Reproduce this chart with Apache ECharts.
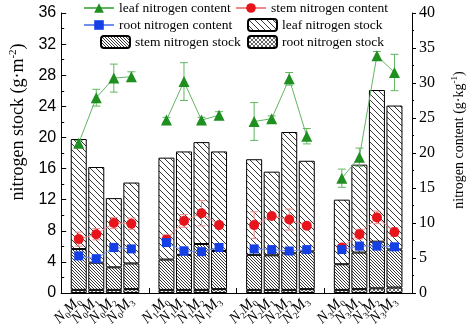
<!DOCTYPE html>
<html>
<head>
<meta charset="utf-8">
<script src="https://cdn.jsdelivr.net/npm/echarts@6/dist/echarts.min.js"></script>
<style>html,body{margin:0;padding:0;background:#fff;}#c{width:474px;height:331px;}</style>
</head>
<body>
<div id="c"></div>
<script>
// ---- data ----
const categories = ['', 'N0M0','N0M1','N0M2','N0M3', '', 'N1M0','N1M1','N1M2','N1M3', '', 'N2M0','N2M1','N2M2','N2M3', '', 'N3M0','N3M1','N3M2','N3M3', ''];
const barSlots = [1,2,3,4, 6,7,8,9, 11,12,13,14, 16,17,18,19];
const rootStock = [0.4,0.4,0.4,0.5, 0.4,0.4,0.4,0.5, 0.4,0.4,0.4,0.5, 0.4,0.5,0.6,0.7];
const stemStock = [5.25,3.5,2.9,3.3, 3.9,4.5,5.9,4.9, 4.5,4.45,4.7,4.85, 3.3,4.7,6.0,4.9];
const leafStock = [14.15,12.3,8.9,10.4, 13.1,13.3,13.1,12.8, 12.3,10.75,15.6,11.65, 8.3,11.3,19.5,18.5];
const leafContent = [21.4,27.9,30.7,30.9, 24.7,30.2,24.7,25.4, 24.5,24.9,30.6,22.4, 16.4,19.4,33.9,31.5];
const leafContentErr = [0.4,1.2,2.0,0.7, 0.4,2.7,0.4,0.5, 2.7,0.4,0.9,1.1, 1.3,1.3,0.6,2.6];
const stemContent = [7.7,8.4,10.0,9.9, 7.6,10.3,11.4,9.7, 9.7,11.0,10.5,9.6, 6.5,8.4,10.8,8.7];
const stemContentErr = [1.0,0.8,0.8,0.8, 0.7,0.9,1.8,0.5, 1.9,0.4,1.5,0.4, 0.4,0.7,0.9,0.6];
const rootContent = [5.3,4.9,6.5,6.3, 7.2,6.0,5.9,6.5, 6.3,6.2,6.0,6.2, 6.2,6.7,6.7,6.6];
const rootContentErr = [0.5,0.5,0.6,0.3, 0.5,0.6,0.5,0.3, 0.3,0.3,0.3,0.3, 0.4,0.4,0.4,0.4];
const leftTicks = {min: 0, max: 36, interval: 4};
const rightTicks = {min: 0, max: 40, interval: 5};

// ---- helpers ----
function spread(arr){ const out = categories.map(()=> '-'); barSlots.forEach((p,i)=>{ out[p]=arr[i]; }); return out; }
function errData(vals, errs){ return barSlots.map((p,i)=>[p, vals[i]-errs[i], vals[i]+errs[i]]); }
function hatch(size, cross){
  const c = document.createElement('canvas'); c.width = size; c.height = size;
  const g = c.getContext('2d'); g.fillStyle = '#fff'; g.fillRect(0,0,size,size);
  g.strokeStyle = '#222'; g.lineWidth = cross ? 0.7 : 0.9;
  for (const k of [-size, 0, size]) { g.beginPath(); g.moveTo(k,0); g.lineTo(k+size,size); g.stroke(); }
  if (cross) for (const k of [-size, 0, size]) { g.beginPath(); g.moveTo(k+size,0); g.lineTo(k,size); g.stroke(); }
  return {image: c, repeat: 'repeat'};
}
const SERIF = '"Liberation Serif","Times New Roman",serif';
const GREEN = '#1f8f1f', GREENL = '#63b563';
const RED = '#e8141c', REDL = '#f08a8a';
const BLUE = '#1540e6', BLUEL = '#6f8ff0';

function errSeries(vals, errs, color){
  return {
    type: 'custom', xAxisIndex: 0, yAxisIndex: 1, z: 4, silent: true,
    data: errData(vals, errs), encode: {x: 0, y: [1,2]},
    renderItem: function(params, api){
      const x = api.value(0);
      const lo = api.coord([x, api.value(1)]), hi = api.coord([x, api.value(2)]);
      const w = 4, st = {stroke: color, lineWidth: 1};
      return {type: 'group', children: [
        {type:'line', shape:{x1:lo[0], y1:lo[1], x2:hi[0], y2:hi[1]}, style: st},
        {type:'line', shape:{x1:lo[0]-w, y1:lo[1], x2:lo[0]+w, y2:lo[1]}, style: st},
        {type:'line', shape:{x1:hi[0]-w, y1:hi[1], x2:hi[0]+w, y2:hi[1]}, style: st}
      ]};
    }
  };
}
function subLabel(s){
  return '{n|' + s[0] + '}{s|' + s[1] + '}{n|' + s[2] + '}{s|' + s[3] + '}';
}
const legendText = {fontFamily: SERIF, fontSize: 13.5, color: '#000'};
function leg(name, left, top, w){
  return {data: [name], left: left, top: top, padding: 0, itemWidth: w, itemHeight: 12, itemGap: 0, textStyle: legendText, selectedMode: false};
}

const chart = echarts.init(document.getElementById('c'), null, {renderer: 'canvas'});
chart.setOption({
  animation: false,
  backgroundColor: '#fff',
  grid: {left: 44, right: 47, top: 13, bottom: 38},
  legend: [
    leg('leaf nitrogen content', 83, 1, 30),
    leg('stem nitrogen content', 235, 1, 30),
    leg('root nitrogen content', 83, 18, 30),
    leg('leaf nitrogen stock', 247, 18, 29),
    leg('stem nitrogen stock', 100, 35, 29),
    leg('root nitrogen stock', 247, 35, 29)
  ],
  xAxis: {
    type: 'category', data: categories, boundaryGap: false,
    axisLine: {lineStyle: {color: '#000', width: 1}},
    axisTick: {inside: true, length: 5, lineStyle: {color: '#000'}, interval: function(i){ return i % 5 === 0; }},
    axisLabel: {
      interval: 0, rotate: 45, margin: 6,
      formatter: function(v){ return v ? subLabel(v) : ''; },
      rich: {
        n: {fontFamily: SERIF, fontStyle: 'italic', fontSize: 15, color: '#000', lineHeight: 18},
        s: {fontFamily: SERIF, fontSize: 9, color: '#000', verticalAlign: 'bottom', lineHeight: 18}
      }
    },
    splitLine: {show: false}
  },
  yAxis: [
    {
      type: 'value', min: leftTicks.min, max: leftTicks.max, interval: leftTicks.interval,
      name: '{a|nitrogen stock (g·m}{b|-2}{a|)}', nameLocation: 'middle', nameGap: 29, nameRotate: 90,
      nameTextStyle: {padding: [0, 0, 0, 62], rich: {a: {fontFamily: SERIF, fontSize: 18, color: '#000', lineHeight: 21}, b: {fontFamily: SERIF, fontSize: 11, color: '#000', verticalAlign: 'top', lineHeight: 21}}},
      axisLine: {show: true, lineStyle: {color: '#000'}},
      axisTick: {show: true, inside: true, length: 5, lineStyle: {color: '#000'}},
      minorTick: {show: true, splitNumber: 2, length: 3, lineStyle: {color: '#000'}},
      axisLabel: {fontFamily: '"Liberation Sans", Arial, sans-serif', fontSize: 16, color: '#000', margin: 5},
      splitLine: {show: false}
    },
    {
      type: 'value', min: rightTicks.min, max: rightTicks.max, interval: rightTicks.interval, position: 'right',
      name: '{a|nitrogen content (g·kg}{b|-1}{a|)}', nameLocation: 'middle', nameGap: 38, nameRotate: 90,
      nameTextStyle: {padding: [0, 0, 0, 26], rich: {a: {fontFamily: SERIF, fontSize: 14, color: '#000', lineHeight: 18}, b: {fontFamily: SERIF, fontSize: 9, color: '#000', verticalAlign: 'top', lineHeight: 18}}},
      axisLine: {show: true, lineStyle: {color: '#000'}},
      axisTick: {show: true, inside: false, length: 4, lineStyle: {color: '#000'}},
      minorTick: {show: true, splitNumber: 2, length: 2, lineStyle: {color: '#000'}},
      axisLabel: {fontFamily: SERIF, fontSize: 16, color: '#000', margin: 7},
      splitLine: {show: false}
    }
  ],
  series: [
    {name: 'root nitrogen stock', type: 'bar', stack: 's', barWidth: 16, data: spread(rootStock),
     itemStyle: {color: hatch(4, true), borderColor: '#000', borderWidth: 1}},
    {name: 'stem nitrogen stock', type: 'bar', stack: 's', barWidth: 16, data: spread(stemStock),
     itemStyle: {color: hatch(3, false), borderColor: '#000', borderWidth: 1}},
    {name: 'leaf nitrogen stock', type: 'bar', stack: 's', barWidth: 16, data: spread(leafStock),
     itemStyle: {color: hatch(6, false), borderColor: '#000', borderWidth: 1}},
    errSeries(leafContent, leafContentErr, GREENL),
    errSeries(stemContent, stemContentErr, REDL),
    errSeries(rootContent, rootContentErr, BLUEL),
    {name: 'leaf nitrogen content', type: 'line', yAxisIndex: 1, data: spread(leafContent), z: 5,
     symbol: 'triangle', symbolSize: 11, itemStyle: {color: GREEN}, lineStyle: {color: GREENL, width: 1}},
    {name: 'stem nitrogen content', type: 'line', yAxisIndex: 1, data: spread(stemContent), z: 5,
     symbol: 'circle', symbolSize: 10, itemStyle: {color: RED}, lineStyle: {color: REDL, width: 1}},
    {name: 'root nitrogen content', type: 'line', yAxisIndex: 1, data: spread(rootContent), z: 5,
     symbol: 'rect', symbolSize: 9, itemStyle: {color: BLUE}, lineStyle: {color: BLUEL, width: 1}}
  ]
});
</script>
</body>
</html>
